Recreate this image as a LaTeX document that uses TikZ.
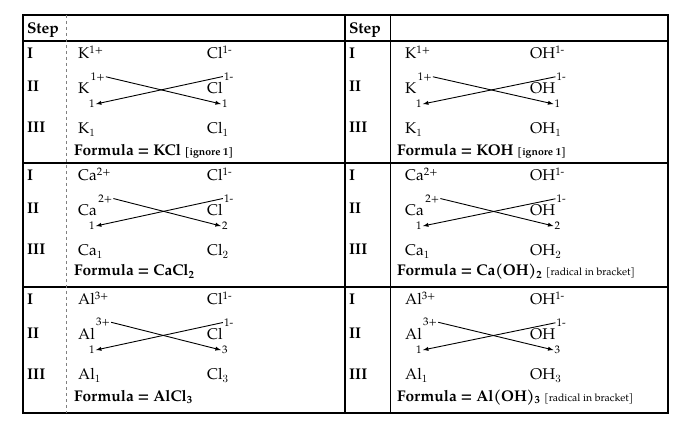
\documentclass[tikz,border=0pt]{standalone}
\usepackage{fontspec}
\setmainfont{TeX Gyre Pagella}
\newcommand\brk{\bfseries\fontsize{10.5}{12}\selectfont}
\newcommand\rbk{\fontsize{10.5}{12}\selectfont}
\begin{document}
\begin{tikzpicture}[x=1pt,y=-1pt,
  txt/.style={inner sep=0pt,anchor=base west,font=\fontsize{15.5}{18}\selectfont},
  sm/.style={inner sep=1pt,font=\fontsize{11}{13}\selectfont},
  stp/.style={inner sep=0pt,anchor=base west,font=\bfseries\fontsize{15.5}{18}\selectfont},
  arr/.style={-latex,line width=0.9pt}]
\useasboundingbox (0,0) rectangle (699,430);
\draw[line width=1.4pt] (23,15) rectangle (668,413);
\foreach \yy in {41,163,287} \draw[line width=1.2pt] (23,\yy) -- (668,\yy);
\draw[line width=1.4pt] (345,15) -- (345,413);
\draw[gray,dashed,line width=0.6pt] (66,15) -- (66,413);
\draw[line width=1pt] (390,15) -- (390,413);
\node[stp] (h1) at (27,34) {Step};
\node[stp] (h2) at (349,34) {Step};
\newcommand\blk[9]{%
  \node[stp] (#1s1) at (#2,#5+18) {I};
  \node[stp] (#1s2) at (#2,#5+51) {II};
  \node[stp] (#1s3) at (#2,#5+92) {III};
  \node[txt] (#1a) at (#3,#5+18) {#6\textsuperscript{#7}};
  \node[txt] (#1b) at (#4,#5+18) {#8\textsuperscript{#9}};
  \node[txt] (#1c) at (#3,#5+53) {#6};
  \node[txt] (#1d) at (#4,#5+53) {#8};
  \node[sm,anchor=south west] (#1e) at ([yshift=1pt]#1c.north east) {#7};
  \node[sm,anchor=south west] (#1f) at ([yshift=1pt]#1d.north east) {#9};
}
\newcommand\nums[8]{%
  \node[sm,anchor=west] (#1g) at (#2+10,#4+63) {#5};
  \node[sm,anchor=west] (#1h) at ([xshift=-2pt]#1d.east |- 0,#4+63) {#6};
  \draw[arr] (#1e.east) -- (#1h.west);
  \draw[arr] (#1f.west) -- (#1g.east);
  \node[txt] (#1i) at (#2,#4+93) {#7};
  \node[txt] (#1j) at (#3,#4+93) {#8};
}
\blk{A}{27}{78}{207}{41}{K}{1+}{Cl}{1-}
\nums{A}{78}{207}{41}{1}{1}{K$_1$}{Cl$_1$}
\node[txt] (Af) at (74,41+115) {\textbf{Formula = KCl} {\brk [ignore 1]}};
\blk{B}{349}{405}{530}{41}{K}{1+}{OH}{1-}
\nums{B}{405}{530}{41}{1}{1}{K$_1$}{OH$_1$}
\node[txt] (Bf) at (397,41+115) {\textbf{Formula = KOH} {\brk [ignore 1]}};
\blk{C}{27}{78}{207}{163}{Ca}{2+}{Cl}{1-}
\nums{C}{78}{207}{163}{1}{2}{Ca$_1$}{Cl$_2$}
\node[txt] (Cf) at (74,163+113) {\textbf{Formula = CaCl$_\mathbf{2}$}};
\blk{D}{349}{405}{530}{163}{Ca}{2+}{OH}{1-}
\nums{D}{405}{530}{163}{1}{2}{Ca$_1$}{OH$_2$}
\node[txt] (Df) at (397,163+113) {\textbf{Formula = Ca(OH)$_\mathbf{2}$} {\rbk [radical in bracket]}};
\blk{E}{27}{78}{207}{287}{Al}{3+}{Cl}{1-}
\nums{E}{78}{207}{287}{1}{3}{Al$_1$}{Cl$_3$}
\node[txt] (Ef) at (74,287+114) {\textbf{Formula = AlCl$_\mathbf{3}$}};
\blk{F}{349}{405}{530}{287}{Al}{3+}{OH}{1-}
\nums{F}{405}{530}{287}{1}{3}{Al$_1$}{OH$_3$}
\node[txt] (Ff) at (397,287+114) {\textbf{Formula = Al(OH)$_\mathbf{3}$} {\rbk [radical in bracket]}};
\end{tikzpicture}
\end{document}
